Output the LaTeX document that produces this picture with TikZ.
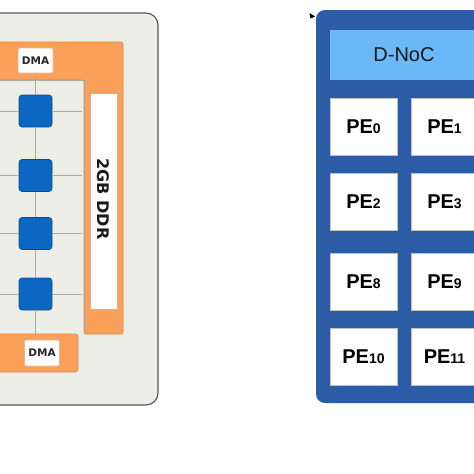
\documentclass[tikz,border=0pt]{standalone}
\usepackage{fontspec}
\setmainfont{Liberation Sans}
\newfontfamily\djv{DejaVu Sans}
\definecolor{panelbg}{HTML}{EDEEE5}
\definecolor{panelbd}{HTML}{5A5A5A}
\definecolor{orfill}{HTML}{F9A15B}
\definecolor{orbd}{HTML}{D9874A}
\definecolor{sqfill}{HTML}{0B67C2}
\definecolor{sqbd}{HTML}{0A4E90}
\definecolor{gridc}{HTML}{A9AAA3}
\definecolor{bluepanel}{HTML}{2D5CA6}
\definecolor{noc}{HTML}{6CB7F5}
\newcommand\pelabel[1]{PE{\fontsize{14}{14}\selectfont\bfseries #1}}
\tikzset{
  dmabox/.style={draw=orbd!60, line width=0.6pt, fill=white, rounded corners=2pt,
    minimum width=35pt, minimum height=25pt, inner sep=0pt,
    font=\djv\bfseries\fontsize{10.5}{10.5}\selectfont, text=black!85},
  peblock/.style={draw=black!25, line width=0.4pt, fill=white,
    minimum width=67pt, minimum height=57pt, inner sep=0pt,
    font=\bfseries\fontsize{20}{20}\selectfont},
  sqnode/.style={draw=sqbd, line width=0.6pt, fill=sqfill, rounded corners=3pt,
    minimum width=33pt, minimum height=32pt, inner sep=0pt},
  gridline/.style={draw=gridc, line width=0.8pt},
}
\begin{document}
\begin{tikzpicture}[x=1pt,y=-1pt]
\useasboundingbox (0,0) rectangle (474,474);
\clip (0,0) rectangle (474,474);
\fill[white] (0,0) rectangle (474,474);

% left panel
\draw[fill=panelbg, draw=panelbd, line width=1.2pt, rounded corners=12pt] (-30,13) rectangle (158,405);
\filldraw[fill=orfill, draw=orbd, line width=0.7pt, rounded corners=2pt]
  (-10,42) -- (123,42) -- (123,334) -- (84,334) -- (84,80) -- (-10,80) -- cycle;
\draw[gridc, line width=0.6pt] (-10,80) -- (84,80) -- (84,334);

\node[dmabox] (dmaT) at (35.5,60.5) {DMA};
\node[draw=orbd, line width=0.7pt, fill=orfill, rounded corners=3pt,
  minimum width=98pt, minimum height=38pt, inner sep=0pt] (band) at (29,353) {};
\node[dmabox, minimum width=35pt, minimum height=26pt] (dmaB) at (42,353) {DMA};

\node[sqnode] (s1) at (35.5,111) {};
\node[sqnode] (s2) at (35.5,175.5) {};
\node[sqnode] (s3) at (35.5,233.5) {};
\node[sqnode] (s4) at (35.5,294) {};

\foreach \s/\yy in {s1/111,s2/175.5,s3/233.5,s4/294}{
  \coordinate (\s L) at (-5,\yy);
  \coordinate (\s R) at (82,\yy);
}
\path[gridline] (dmaT.south) -- (s1.north) (s1.south) -- (s2.north) (s2.south) -- (s3.north)
  (s3.south) -- (s4.north) (s4.south) -- (s4.south |- band.north);
\foreach \s in {s1,s2,s3,s4}{
  \path[gridline] (\s L) -- (\s.west) (\s.east) -- (\s R);
}

\node[draw=orbd!70, line width=0.6pt, fill=white, minimum width=27pt, minimum height=216pt,
  inner sep=0pt] (ddr) at (103.5,201) {};
\node[rotate=-90, font=\djv\bfseries\fontsize{16}{16}\selectfont, text=black!90] (ddrt) at (103,199) {2GB DDR};

% right panel
\fill[black] (309.5,13) -- (315,16.5) -- (310.5,18.5) -- cycle;
\fill[bluepanel, rounded corners=9pt] (316,10) rectangle (500,403);
\node[fill=noc, minimum width=148pt, minimum height=50pt, inner sep=0pt,
  font=\fontsize{20}{20}\selectfont, text=black!90] (dnoc) at (404,55) {D-NoC};

\node[peblock] (pe0) at (363.5,126.5) {\pelabel{0}};
\node[peblock] (pe1) at (444.5,126.5) {\pelabel{1}};
\node[peblock] (pe2) at (363.5,202) {\pelabel{2}};
\node[peblock] (pe3) at (444.5,202) {\pelabel{3}};
\node[peblock] (pe8) at (363.5,281.5) {\pelabel{8}};
\node[peblock] (pe9) at (444.5,281.5) {\pelabel{9}};
\node[peblock] (pe10) at (363.5,356.5) {\pelabel{10}};
\node[peblock] (pe11) at (444.5,356.5) {\pelabel{11}};
\end{tikzpicture}
\end{document}
